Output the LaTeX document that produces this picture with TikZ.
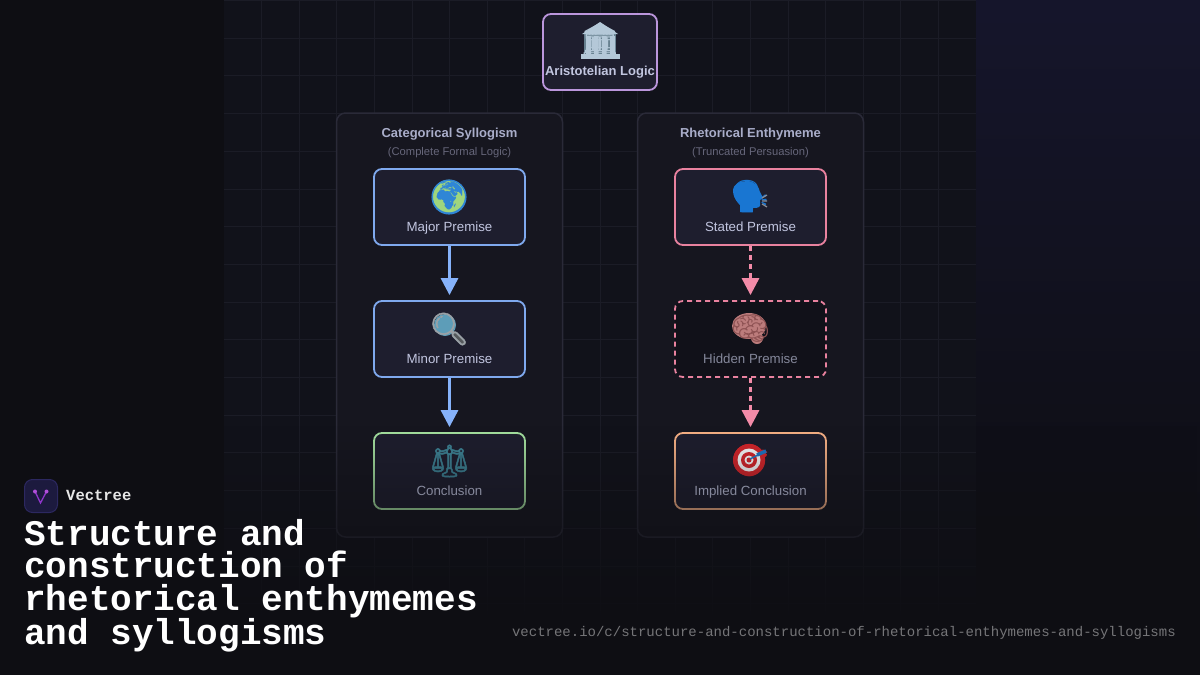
\documentclass[tikz,border=0pt]{standalone}
\usepackage{fontspec}
\setmainfont{Liberation Sans}
\setmonofont{Liberation Mono}
\newfontfamily\emojifont{Noto Emoji}
\newfontfamily\emojiheavy[FakeBold=1.5]{Noto Emoji}
\usetikzlibrary{arrows.meta,fadings}

\definecolor{pagedark}{HTML}{0E0E13}
\definecolor{griddark}{HTML}{11121A}
\definecolor{gridline}{HTML}{1B1C26}
\definecolor{glownavy}{HTML}{16162C}
\definecolor{panelfill}{HTML}{16161F}
\definecolor{panelline}{HTML}{2A2A38}
\definecolor{boxfill}{HTML}{1E1E2E}
\definecolor{hiddenfill}{HTML}{111119}
\definecolor{labeltext}{HTML}{C2C6E0}
\definecolor{titletext}{HTML}{A9ADC9}
\definecolor{subtext}{HTML}{66667A}
\definecolor{bluel}{HTML}{7FA9EE}
\definecolor{bluearrow}{HTML}{86B2FA}
\definecolor{pinkl}{HTML}{E9829F}
\definecolor{pinkarrow}{HTML}{F38BA8}
\definecolor{greenl}{HTML}{A6E3A1}
\definecolor{orangel}{HTML}{FAB387}
\definecolor{purplel}{HTML}{BB96DC}
\definecolor{templelight}{HTML}{B4C8D8}
\definecolor{templedark}{HTML}{66808F}
\definecolor{oceanblue}{HTML}{2F86D6}
\definecolor{landgreen}{HTML}{9FD67E}
\definecolor{lensblue}{HTML}{5D9DB8}
\definecolor{lensgrey}{HTML}{9AA1A6}
\definecolor{handlegrey}{HTML}{55595C}
\definecolor{scaleteal}{HTML}{3E8496}
\definecolor{headblue}{HTML}{1976D2}
\definecolor{voicegrey}{HTML}{8A8D96}
\definecolor{brainpink}{HTML}{BC7C7C}
\definecolor{brainfold}{HTML}{8F5354}
\definecolor{targetred}{HTML}{D9262B}
\definecolor{dartblue}{HTML}{1E78C8}
\definecolor{logoline}{HTML}{2C2860}
\definecolor{logofill}{HTML}{1C1A3E}
\definecolor{logomark}{HTML}{8E35C9}
\definecolor{logodot}{HTML}{B04FD8}
\definecolor{brandtext}{HTML}{E6E6E6}
\definecolor{urltext}{HTML}{757578}

\tikzfading[name=fadedown, top color=transparent!100, bottom color=transparent!0]
\tikzfading[name=fadeglow, top color=transparent!0, middle color=transparent!25, bottom color=transparent!100]

\tikzset{
	panelbox/.style={draw=panelline, fill=panelfill, line width=1.5pt, rounded corners=9pt, minimum width=226pt, minimum height=424pt, inner sep=0pt},
	stepbox/.style={draw=#1, fill=boxfill, line width=1.8pt, rounded corners=8pt, minimum width=151pt, minimum height=76pt, inner sep=0pt},
	hiddenbox/.style={stepbox=#1, fill=hiddenfill, dash pattern=on 5pt off 4pt},
	rootbox/.style={draw=#1, fill=boxfill, line width=1.8pt, rounded corners=8pt, minimum width=114pt, minimum height=76pt, inner sep=0pt},
	icon/.style={font=\emojifont\fontsize{32}{32}\selectfont, text=#1, inner sep=0pt},
	heavyicon/.style={font=\emojiheavy\fontsize{32}{32}\selectfont, text=#1, inner sep=0pt},
	steplabel/.style={anchor=base, font=\fontsize{13.3}{16}\selectfont, text=labeltext, inner sep=0pt},
	paneltitle/.style={anchor=base, font=\bfseries\fontsize{13}{16}\selectfont, text=titletext, inner sep=0pt},
	panelsub/.style={anchor=base, font=\fontsize{11.2}{14}\selectfont, text=subtext, inner sep=0pt},
	flow/.style={draw=#1, line width=3pt, -{Triangle[width=17pt,length=17pt,fill=#1]}, shorten >=5pt},
	hiddenflow/.style={flow=#1, dash pattern=on 5pt off 4pt}
}

\begin{document}
\begin{tikzpicture}[x=1pt,y=-1pt]
	\useasboundingbox (0,0) rectangle (1200,675);

	% --- backdrop and grid ---
	\fill[pagedark] (0,0) rectangle (1200,675);
	\fill[griddark] (224,0) rectangle (976,675);
	\foreach \gx in {1,...,19} {
		\draw[gridline, line width=1pt] (224+37.6*\gx,0) -- (224+37.6*\gx,675);
	}
	\foreach \gy in {0,...,17} {
		\draw[gridline, line width=1pt] (224,0.5+37.7*\gy) -- (976,0.5+37.7*\gy);
	}
	\fill[glownavy, path fading=fadeglow] (976,0) rectangle (1200,560);

	% --- root ---
	\node[rootbox=purplel] (root) at (600,52) {};
	\fill[templedark] (584,34) rectangle (616,55);
	\fill[templelight] (600,22) -- (618,34) -- (582,34) -- cycle;
	\fill[templelight] (581,54) rectangle (620,59);
	\fill[templelight] (586,36) rectangle (591,54) (594,36) rectangle (598.5,54) (602,36) rectangle (606.5,54) (610,36) rectangle (615,54);
	\node[icon=templelight] (rooticon) at (600,40) {\symbol{"1F3DB}};
	\node[steplabel, font=\bfseries\fontsize{13}{16}\selectfont] (rootlabel) at (600,75.5) {Aristotelian Logic};

	% --- LEFT: categorical syllogism ---
	\node[panelbox] (leftpanel) at (449.5,325) {};
	\node[paneltitle] (lefttitle) at (449.5,137) {Categorical Syllogism};
	\node[panelsub] (leftsub) at (449.5,155) {(Complete Formal Logic)};

	\node[stepbox=bluel] (major) at (449.5,207) {};
	\fill[oceanblue] (449,197) circle (17pt);
	\node[icon=landgreen] (majoricon) at (449,197) {\symbol{"1F30D}};
	\draw[oceanblue, line width=1.5pt] (449,197) circle (16.8pt);
	\node[steplabel] (majorlabel) at (449.5,231) {Major Premise};

	\node[stepbox=bluel] (minor) at (449.5,339) {};
	\fill[lensblue] (445,325) circle (11pt);
	\draw[handlegrey, line width=4pt, line cap=round] (454,334) -- (464,343);
	\node[heavyicon=lensgrey] (minoricon) at (449,329) {\symbol{"1F50D}};
	\node[steplabel] (minorlabel) at (449.5,363) {Minor Premise};

	\node[stepbox=greenl] (concl) at (449.5,471) {};
	\node[heavyicon=scaleteal] (conclicon) at (449.5,461) {\symbol{"2696}};
	\node[steplabel] (concllabel) at (449.5,495) {Conclusion};

	\draw[flow=bluearrow] (major) -- (minor);
	\draw[flow=bluearrow] (minor) -- (concl);

	% --- RIGHT: rhetorical enthymeme ---
	\node[panelbox] (rightpanel) at (750.5,325) {};
	\node[paneltitle] (righttitle) at (750.5,137) {Rhetorical Enthymeme};
	\node[panelsub] (rightsub) at (750.5,155) {(Truncated Persuasion)};

	\node[stepbox=pinkl] (stated) at (750.5,207) {};
	\node[icon=headblue] (statedicon) at (750.5,197) {\symbol{"1F5E3}};
	\fill[headblue] (740,212) -- (740,205) .. controls (735,200) and (733,195) .. (733,191) .. controls (733,184) and (740,181) .. (747,181) .. controls (755,181) and (759,187) .. (760,192) -- (763,198) -- (760,200) -- (760,206) .. controls (759,208) and (755,208) .. (752,208) -- (752,212) -- cycle;
	\draw[voicegrey, line width=1.2pt] (762,198) -- (767,195) (762,201) -- (767,201) (762,204) -- (767,207);
	\node[steplabel] (statedlabel) at (750.5,231) {Stated Premise};

	\node[hiddenbox=pinkl] (hidden) at (750.5,339) {};
	\fill[brainpink] (749,326) ellipse (17pt and 13pt);
	\fill[brainpink] (757,338) circle (6pt);
	\node[icon=brainfold] (hiddenicon) at (750.5,329) {\symbol{"1F9E0}};
	\node[steplabel, text=labeltext!65!hiddenfill] (hiddenlabel) at (750.5,363) {Hidden Premise};

	\node[stepbox=orangel] (implied) at (750.5,471) {};
	\node[icon=targetred] (impliedicon) at (750.5,461) {\symbol{"1F3AF}};
	\fill[targetred] (749,460) circle (16pt);
	\fill[white] (749,460) circle (11.5pt);
	\fill[targetred] (749,460) circle (8pt);
	\fill[white] (749,460) circle (4.5pt);
	\fill[targetred] (749,460) circle (2.5pt);
	\draw[dartblue, line width=1.5pt] (750,459) -- (758,455);
	\draw[dartblue, line width=3.5pt] (757,455) -- (766,451);
	\node[steplabel] (impliedlabel) at (750.5,495) {Implied Conclusion};

	\draw[hiddenflow=pinkarrow] (stated) -- (hidden);
	\draw[hiddenflow=pinkarrow] (hidden) -- (implied);

	% --- dim towards the bottom ---
	\fill[pagedark, path fading=fadedown] (0,425) rectangle (1200,625);
	\fill[pagedark] (0,625) rectangle (1200,675);

	% --- brand and title ---
	\node[draw=logoline, fill=logofill, line width=1pt, rounded corners=8pt, minimum size=33pt, inner sep=0pt] (logo) at (41,496) {};
	\coordinate (logoroot) at (40.5,503);
	\coordinate (logoleft) at (35,491.5);
	\coordinate (logoright) at (46.5,491.5);
	\draw[logomark, line width=1.3pt] (logoleft) -- (logoroot) -- (logoright);
	\fill[logodot] (logoleft) circle (2pt) (logoright) circle (2pt);

	\node[anchor=west, inner sep=0pt, font=\ttfamily\bfseries\fontsize{15.5}{18}\selectfont, text=brandtext] (brand) at (66,495.5) {Vectree};
	\node[anchor=north west, inner sep=0pt, align=left, font=\ttfamily\bfseries\fontsize{36}{32.4}\selectfont, text=white] (title) at (24,519) {Structure and\\construction of\\rhetorical enthymemes\\and syllogisms};
	\node[anchor=east, inner sep=0pt, font=\ttfamily\fontsize{14}{16}\selectfont, text=urltext] (url) at (1176,632.5) {vectree.io/c/structure-and-construction-of-rhetorical-enthymemes-and-syllogisms};
\end{tikzpicture}
\end{document}
